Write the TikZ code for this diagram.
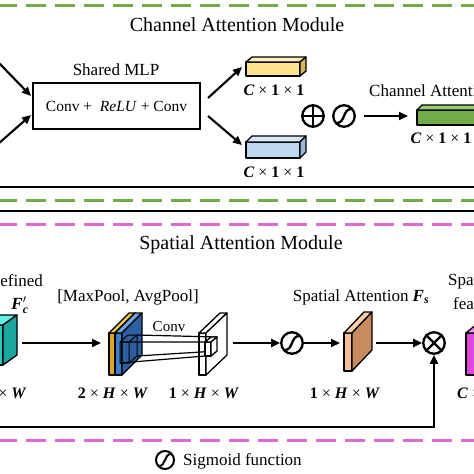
\documentclass[tikz,border=0pt]{standalone}
\usepackage{fontspec}
\usepackage{amsmath}
\setmainfont{Liberation Serif}
\usetikzlibrary{arrows.meta}
\definecolor{dgreen}{RGB}{112,173,71}
\definecolor{dmag}{RGB}{226,104,214}
\definecolor{yelF}{RGB}{255,226,140}
\definecolor{yelT}{RGB}{255,238,185}
\definecolor{yelS}{RGB}{214,182,86}
\definecolor{bluF}{RGB}{189,215,238}
\definecolor{bluT}{RGB}{214,230,245}
\definecolor{bluS}{RGB}{150,185,220}
\definecolor{grnF}{RGB}{112,173,71}
\definecolor{grnT}{RGB}{150,205,110}
\definecolor{grnS}{RGB}{84,130,53}
\definecolor{cyF}{RGB}{40,200,195}
\definecolor{cyT}{RGB}{95,240,232}
\definecolor{cyS}{RGB}{28,165,158}
\definecolor{stY}{RGB}{222,165,30}
\definecolor{stYT}{RGB}{240,195,70}
\definecolor{stB}{RGB}{60,125,200}
\definecolor{stBT}{RGB}{110,165,225}
\definecolor{stBS}{RGB}{45,95,160}
\definecolor{orF}{RGB}{246,190,150}
\definecolor{orT}{RGB}{250,205,170}
\definecolor{orS}{RGB}{200,138,95}
\definecolor{mgF}{RGB}{225,70,225}
\definecolor{mgT}{RGB}{240,140,240}
\definecolor{mgS}{RGB}{190,50,190}
\newcommand{\mycub}[9]{%
  \filldraw[fill=#7,draw=black,line width=1.3pt,line join=round] (#1,#2) rectangle ({#1+#3},{#2+#4});
  \filldraw[fill=#8,draw=black,line width=1.3pt,line join=round] (#1,#2) -- ({#1+#5},{#2+#6}) -- ({#1+#3+#5},{#2+#6}) -- ({#1+#3},#2) -- cycle;
  \filldraw[fill=#9,draw=black,line width=1.3pt,line join=round] ({#1+#3},#2) -- ({#1+#3+#5},{#2+#6}) -- ({#1+#3+#5},{#2+#4+#6}) -- ({#1+#3},{#2+#4}) -- cycle;
}
\tikzset{
  arr/.style={-{Triangle[length=9pt,width=8pt]}, line width=2.1pt},
  opc/.style={circle, draw, line width=2.3pt, minimum size=21.5pt, inner sep=0pt},
  sep/.style={line width=2.4pt},
  gdash/.style={dgreen, line width=3pt, dash pattern=on 20pt off 9pt},
  mdash/.style={dmag, line width=3pt, dash pattern=on 20pt off 9pt},
  title/.style={font=\fontsize{20}{24}\selectfont, inner sep=0pt},
  lbl/.style={font=\fontsize{17}{20}\selectfont, inner sep=0pt},
  dimlab/.style={font=\fontsize{16}{18}\selectfont\bfseries, inner sep=0pt},
  mono/.style={font=\fontsize{15}{18}\selectfont, inner sep=0pt},
}
\begin{document}
\begin{tikzpicture}[x=1pt,y=-1pt]
\useasboundingbox (0,0) rectangle (474,474);
\clip (0,0) rectangle (474,474);
\fill[white] (0,0) rectangle (474,474);

% separators
\draw[gdash] (-3,5) -- (480,5);
\draw[sep] (-5,187) -- (480,187);
\draw[gdash] (-3,200) -- (480,200);
\draw[sep] (-5,211) -- (480,211);
\draw[mdash] (-3,224) -- (480,224);
\draw[mdash] (-3,440) -- (480,440);

% ---------------- Channel attention ----------------
\node[title] (ctitle) at (237,25) {Channel Attention Module};
\node[draw, line width=1.5pt, minimum width=167pt, minimum height=46pt, inner sep=0pt,
      font=\fontsize{15.5}{18}\selectfont] (mlp) at (116.5,106) {Conv +\ \ \textit{ReLU} + Conv};
\node[lbl] (mlplab) at (116,70) {Shared MLP};

\coordinate (in1) at (-2,62);
\coordinate (in1e) at (31,96);
\coordinate (in2) at (-2,144);
\coordinate (in2e) at (31,115);
\draw[arr] (in1) -- (in1e);
\draw[arr] (in2) -- (in2e);

\mycub{246}{62}{54}{14}{6}{-5}{yelF}{yelT}{yelS}
\mycub{246}{142}{54}{16}{6}{-6}{bluF}{bluT}{bluS}
\coordinate (o1) at (208,98);
\coordinate (yel) at (242,67);
\coordinate (o2) at (208,116);
\coordinate (blu) at (242,145);
\draw[arr] (o1) -- (yel);
\draw[arr] (o2) -- (blu);
\node[dimlab] (l1) at (274,90) {\textit{C} \textmd{×} 1 \textmd{×} 1};
\node[dimlab] (l2) at (274,172) {\textit{C} \textmd{×} 1 \textmd{×} 1};

\node[opc] (plus) at (313,116) {};
\draw[line width=2.3pt] (plus.north) -- (plus.south) (plus.west) -- (plus.east);
\node[opc] (sg1) at (344,116) {};
\draw[line width=2.3pt, shift={(sg1.center)}] (-7,7) .. controls (1,7) and (-1,-7) .. (7,-7);
\coordinate (grn) at (408,116);
\draw[arr] (sg1.east) ++(8,0) coordinate (sg1o) (sg1o) -- (grn);
\mycub{417}{110}{80}{15}{5}{-5}{grnF}{grnT}{grnS}
\node[lbl, anchor=west] (calab) at (369,91) {Channel Attention};
\node[dimlab] (l3) at (441,138) {\textit{C} \textmd{×} 1 \textmd{×} 1};

% ---------------- Spatial attention ----------------
\node[title] (stitle) at (241,245) {Spatial Attention Module};
\node[lbl, anchor=east] (reflab) at (43,281) {Refined};
\node[lbl] (fclab) at (20,305) {\textbf{\textit{F}}$'_{\text{\bfseries\itshape c}}$};
\mycub{-60}{325}{63}{40}{14}{-10}{cyF}{cyT}{cyS}
\node[dimlab] (l4) at (-10,393) {\textit{C} \textmd{×} \textit{H} \textmd{×} \textit{W}};
\coordinate (cyo) at (22,343);
\coordinate (sti) at (101,343);
\draw[arr] (cyo) -- (sti);

\node[lbl] (mplab) at (128,297) {[MaxPool, AvgPool]};
\mycub{109}{333}{6}{42}{20}{-20}{stY}{stYT}{stY}
\mycub{115}{333}{7}{42}{20}{-20}{stB}{stBT}{stBS}
% kernel
\draw[line width=1pt, line join=round] (120,342) rectangle (129,363)
  (120,342) -- (128,335) -- (137,335) -- (129,342)
  (137,335) -- (137,356) -- (129,363);
\node[dimlab] (l5) at (113,393) {2 \textmd{×} \textit{H} \textmd{×} \textit{W}};

\mycub{199}{333}{7}{42}{21}{-20}{white}{white}{white}
\draw[line width=1.2pt] (137,335) -- (217,337) (120,342) -- (205,342)
  (120,363) -- (205,356) (137,356) -- (217,351);
\mycub{205}{342}{6}{14}{6}{-5}{white}{white}{white}
\node[mono] (convlab) at (169,327) {Conv};
\node[dimlab] (l6) at (204,393) {1 \textmd{×} \textit{H} \textmd{×} \textit{W}};

\coordinate (wso) at (233,343);
\node[opc] (sg2) at (292,343) {};
\draw[line width=2.3pt, shift={(sg2.center)}] (-7,7) .. controls (1,7) and (-1,-7) .. (7,-7);
\draw[arr] (wso) -- (sg2.west);
\coordinate (ori) at (340,343);
\draw[arr] (sg2.east) -- (ori);
\mycub{344}{333}{8}{38}{20}{-21}{orF}{orT}{orS}
\node[lbl] (salab) at (361,297) {Spatial Attention \textbf{\textit{F}}\textsubscript{\textbf{\textit{s}}}};
\node[dimlab] (l7) at (345,393) {1 \textmd{×} \textit{H} \textmd{×} \textit{W}};

\node[opc] (mul) at (434,343) {};
\draw[line width=2.3pt] (mul.north west) -- (mul.south east) (mul.north east) -- (mul.south west);
\coordinate (oro) at (376,343);
\draw[arr] (oro) -- (mul.west);

\mycub{466}{333}{60}{42}{12}{-10}{mgF}{mgT}{mgS}
\node[lbl, anchor=west] (sflab1) at (448,281) {Spatial};
\node[lbl, anchor=west] (sflab2) at (453,304) {feature};
\node[dimlab, anchor=west] (l8) at (457,393) {\textit{C} \textmd{×} \textit{H} \textmd{×} \textit{W}};

\coordinate (fbs) at (-5,427);
\coordinate (fbc) at (434,427);
\draw[arr] (fbs) -- (fbc) -- (mul.south);

% legend
\node[opc, minimum size=18pt, line width=2pt] (sg3) at (165,460) {};
\draw[line width=2pt, shift={(sg3.center)}] (-6,6) .. controls (1,6) and (-1,-6) .. (6,-6);
\node[lbl, anchor=west] (leg) at (183,461) {Sigmoid function};
\end{tikzpicture}
\end{document}
